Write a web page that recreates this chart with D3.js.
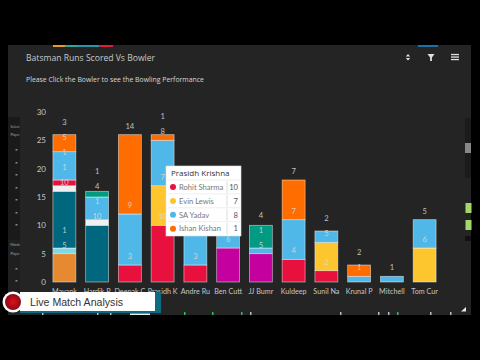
<!DOCTYPE html>
<html><head><meta charset="utf-8">
<script src="https://cdn.jsdelivr.net/npm/d3@7"></script>
<style>html,body{margin:0;background:#000}svg{display:block}</style></head>
<body><svg id="c" width="480" height="360"></svg>
<script>
const bowlers=["Mayank","Hardik P","Deepak C","Prasidh K","Andre Ru","Ben Cutt","JJ Bumr","Kuldeep","Sunil Na","Krunal P","Mitchell","Tom Cur"];
const brown  =[5,0,0,0,0,0,0,0,0,0,0,0];
const cyan   =[1,0,0,0,0,0,0,0,0,0,0,0];
const magenta=[0,0,0,0,0,6,5,0,0,0,0,0];
const teal   =[10,10,0,0,0,0,0,0,0,0,0,0];
const pale   =[1,1,0,0,0,0,0,0,0,0,0,0];
const rohit  =[1,0,3,10,3,0,0,4,2,0,0,0];
const evin   =[0,0,0,7,0,0,0,0,5,0,0,6];
const yadav  =[5,4,9,8,6,4,1,7,2,1,1,5];
const ishan  =[3,0,14,1,0,0,0,7,0,2,0,0];
const green  =[0,1,0,0,0,0,4,0,0,0,0,0];
const seriesKeys=["brown","cyan","magenta","teal","pale","rohit","evin","yadav","ishan","green"];
const seriesValues=[brown,cyan,magenta,teal,pale,rohit,evin,yadav,ishan,green];
const seriesColors=["#e58a30","#7fd8ea","#c4009f","#00677f","#f0f0f0","#e8103c","#fdc62f","#4fb8e8","#ff6d00","#009b82"];
const yTicks=[0,5,10,15,20,25,30];
const tipTitle="Prasidh Krishna";
const tipNames=["Rohit Sharma","Evin Lewis","SA Yadav","Ishan Kishan"];
const tipKeys=["rohit","evin","yadav","ishan"];
const tipIndex=3;

const F="Lato, 'Open Sans', sans-serif";
const svg=d3.select("#c");
svg.append("rect").attr("width",480).attr("height",360).attr("fill","#000");
svg.append("rect").attr("x",8).attr("y",45).attr("width",463).attr("height",270).attr("fill","#242424");

// top colour strip remnants
[[53,65,"#e39a2f"],[65,78,"#2fa89a"],[78,99,"#2b93a8"],[99,113,"#d8203c"],[418,438,"#1f6fa8"]].forEach(d=>
  svg.append("rect").attr("x",d[0]).attr("y",45).attr("width",d[1]-d[0]).attr("height",2).attr("fill",d[2]));

svg.append("text").attr("x",26).attr("y",61).attr("fill","#c8c8c8").attr("font-family","'Open Sans',sans-serif").attr("font-size",8.6).text("Batsman Runs Scored Vs Bowler");
svg.append("text").attr("x",26).attr("y",81.5).attr("fill","#d8d8d8").attr("font-family","'Open Sans',sans-serif").attr("font-size",6.9).text("Please Click the Bowler to see the Bowling Performance");

// toolbar icons
const ic=svg.append("g").attr("fill","#e0e0e0");
ic.append("path").attr("d","M408 54l2.2 2.4h-4.4zM408 60.5l2.2-2.4h-4.4z");
ic.append("path").attr("d","M427.5 54h7l-2.6 3.6v3.4h-1.8v-3.4z");
[54.5,57,59.5].forEach(y=>ic.append("rect").attr("x",451).attr("y",y-0.6).attr("width",8).attr("height",1.3));

// scales
const x=d3.scaleBand().domain(bowlers).range([48,441]).paddingInner(0.3).paddingOuter(0.15);
const y=d3.scaleLinear().domain([0,30]).range([282,112]);

const axis=svg.append("g").attr("transform","translate(49,0)").call(d3.axisLeft(y).tickValues(yTicks).tickSize(0));
axis.select(".domain").remove();
axis.selectAll("text").attr("fill","#c4c4c4").attr("font-family",F).attr("font-size",8);

const xAxis=svg.append("g").attr("transform","translate(0,285.5)").call(d3.axisBottom(x).tickSize(0));
xAxis.select(".domain").remove();
xAxis.selectAll("text").attr("fill","#c4c4c4").attr("font-family",F).attr("font-size",7.2);

// stacks
const table=bowlers.map((b,i)=>{const r={bowler:b};seriesKeys.forEach((k,j)=>r[k]=seriesValues[j][i]);return r;});
const stacked=d3.stack().keys(seriesKeys)(table);
const color=d3.scaleOrdinal(seriesKeys,seriesColors);

stacked.forEach(s=>{
  svg.append("g").selectAll("rect").data(s.filter(d=>d[1]>d[0])).join("rect")
    .attr("x",d=>x(d.data.bowler)).attr("width",x.bandwidth())
    .attr("y",d=>y(d[1])).attr("height",d=>y(d[0])-y(d[1]))
    .attr("fill",color(s.key))
    .attr("stroke","rgba(255,255,255,0.55)").attr("stroke-width",0.8);
});

// tooltip box geometry
const tipBox={x:166,y:166,w:75,h:70};

// value labels: above each segment, pushed up when they would collide
const labels=svg.append("g").attr("font-family",F).attr("font-size",7.6).attr("text-anchor","middle");
bowlers.forEach(b=>{
  let prev=Infinity;
  const cx=x(b)+x.bandwidth()/2;
  stacked.forEach(s=>{
    const d=s.find(e=>e.data.bowler===b);
    if(d[1]<=d[0])return;
    let ly=y(d[1])-6;
    if(ly>prev-15)ly=prev-15;
    prev=ly;
    // labels that sit fully under the tooltip are not visible
    if(cx>tipBox.x+4&&cx<tipBox.x+tipBox.w&&ly>tipBox.y&&ly<tipBox.y+tipBox.h+6)return;
    labels.append("text").attr("x",cx).attr("y",ly).attr("fill","#dcdcdc").attr("opacity",0.85).text(d[1]-d[0]);
  });
});

// tooltip
const t=svg.append("g").attr("font-family",F);
t.append("rect").attr("x",tipBox.x).attr("y",tipBox.y).attr("width",tipBox.w).attr("height",tipBox.h).attr("fill","#fff").attr("stroke","#ddd").attr("stroke-width",0.6);
t.append("text").attr("x",171).attr("y",176).attr("fill","#333").attr("font-size",8).attr("font-family","'Open Sans',sans-serif").text(tipTitle);
tipNames.forEach((n,i)=>{
  const ry=187+i*13.9,k=tipKeys[i];
  t.append("line").attr("x1",167).attr("x2",240).attr("y1",ry-7).attr("y2",ry-7).attr("stroke","#eee");
  t.append("circle").attr("cx",173).attr("cy",ry).attr("r",3).attr("fill",color(k));
  t.append("text").attr("x",179).attr("y",ry+2.7).attr("fill","#777").attr("font-size",7.6).text(n);
  t.append("line").attr("x1",227).attr("x2",227).attr("y1",ry-6).attr("y2",ry+6).attr("stroke","#ddd");
  t.append("text").attr("x",238).attr("y",ry+2.7).attr("text-anchor","end").attr("fill","#555").attr("font-size",7.6).text(seriesValues[seriesKeys.indexOf(k)][tipIndex]);
});

// left slicer strip
const sl=svg.append("g");
sl.append("rect").attr("x",8).attr("y",117).attr("width",12).attr("height",123).attr("fill","#1a1a1a");
sl.append("rect").attr("x",8).attr("y",240).attr("width",12).attr("height",60).attr("fill","#1f1f1f");
[["Select",128],["Player",136],["Match",246],["Player",255]].forEach(d=>sl.append("text").attr("x",15).attr("y",d[1]).attr("text-anchor","middle").attr("fill","#aaa").attr("font-size",3.4).attr("font-family",F).text(d[0]));
[149,162,174,187,199,212,224,268,280].forEach(yy=>sl.append("rect").attr("x",15.5).attr("y",yy).attr("width",2).attr("height",1.5).attr("fill","#888"));

// right strip
const rs=svg.append("g");
rs.append("rect").attr("x",465).attr("y",118).attr("width",6).attr("height",60).attr("fill","#1b1b1b");
rs.append("rect").attr("x",465).attr("y",143).attr("width",6).attr("height",10).attr("fill","#888");
[[203],[220]].forEach(d=>rs.append("rect").attr("x",465.5).attr("y",d[0]).attr("width",6).attr("height",10).attr("fill","#a5d66a"));
rs.append("rect").attr("x",465).attr("y",236).attr("width",6).attr("height",5).attr("fill","#111");
rs.append("path").attr("d","M466 307l-5 4.5h5z").attr("fill","#e8e8e8");

// bottom marks
[[184,"#35c060"],[212,"#35c060"],[397,"#35c060"],[241,"#35c060"],[340,"#bbb"],[378,"#bbb"],[388,"#bbb"],[430,"#bbb"],[450,"#bbb"],[250,"#bbb"],[42,"#bbb"],[97,"#bbb"],[110,"#bbb"]].forEach(d=>
  svg.append("rect").attr("x",d[0]).attr("y",312).attr("width",1.5).attr("height",3).attr("fill",d[1]));
svg.append("rect").attr("x",130).attr("y",313.5).attr("width",20).attr("height",1.5).attr("fill","#eee");

// banner
const bn=svg.append("g");
bn.append("rect").attr("x",20).attr("y",292).attr("width",141).attr("height",21).attr("fill","#0f6c80");
bn.append("rect").attr("x",20).attr("y",292).attr("width",135).attr("height",19).attr("fill","#fff");
bn.append("circle").attr("cx",13).attr("cy",302).attr("r",10.5).attr("fill","#fff");
const grad=svg.append("defs").append("radialGradient").attr("id","rg");
grad.append("stop").attr("offset","0%").attr("stop-color","#e01020");
grad.append("stop").attr("offset","100%").attr("stop-color","#8a0a14");
bn.append("circle").attr("cx",13).attr("cy",302).attr("r",8).attr("fill","url(#rg)");
bn.append("text").attr("x",30).attr("y",306).attr("fill","#333").attr("font-family","'Liberation Sans',sans-serif").attr("font-size",10.6).text("Live Match Analysis");
</script></body></html>
